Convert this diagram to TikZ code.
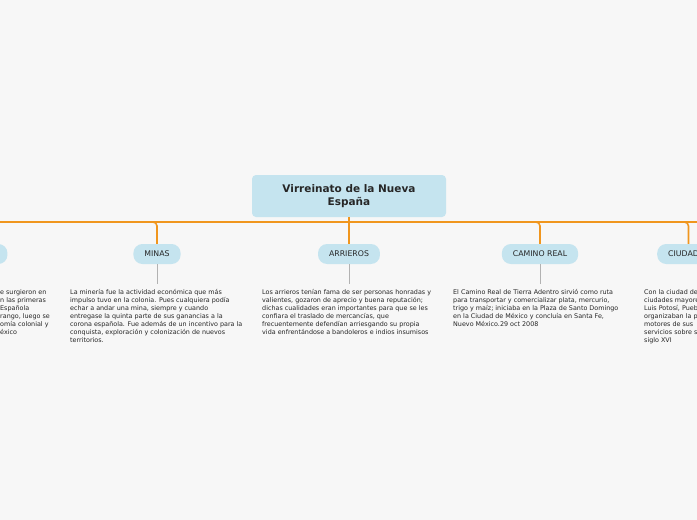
\documentclass[tikz,border=0pt]{standalone}
\usepackage{fontspec}
\setmainfont{DejaVu Sans}
\begin{document}
\begin{tikzpicture}[x=1pt,y=-1pt,
 sub/.style={fill=nodeblue,rounded corners=9pt,minimum height=20pt,inner xsep=11pt,font=\fontsize{7.8}{9}\selectfont,text=black!85},
 body/.style={anchor=north west,align=left,inner sep=0pt,font=\fontsize{6.4}{8}\selectfont,text=black!85},
 br/.style={draw=branch,line width=1.6pt,rounded corners=4pt},
 gl/.style={draw=gray!60,line width=0.6pt}]
\definecolor{nodeblue}{HTML}{C5E4EF}
\definecolor{branch}{HTML}{F0961E}
\fill[black!3] (0,0) rectangle (697,520);
\useasboundingbox (0,0) rectangle (697,520);
\clip (0,0) rectangle (697,520);
\node[fill=nodeblue,rounded corners=4pt,minimum width=194pt,minimum height=42pt,align=center,font=\bfseries\fontsize{10.5}{13}\selectfont,text=black!85] (main) at (349,196) {Virreinato de la Nueva\\España};
\node[sub] (l) at (-20,254) {MINERÍA};
\node[sub] (m) at (157,254) {MINAS};
\node[sub] (a) at (349,254) {ARRIEROS};
\node[sub] (c) at (540,254) {CAMINO REAL};
\node[sub,anchor=west] (u) at (657,254) {CIUDADES};
\coordinate (h) at (349,222);
\draw[br] (main.south) -- (h);
\draw[br] (-30,222) -- (727,222);
\draw[br] (0,222) -| (l.north);
\draw[br] (100,222) -| (m.north);
\draw[br] (h) -- (a.north);
\draw[br] (450,222) -| (c.north);
\draw[br] (650,222) -| (u.north);
\draw[gl] (m.south) -- ++(0,20);
\draw[gl] (a.south) -- ++(0,20);
\draw[gl] (c.south) -- ++(0,20);
\node[body] (tl) at (0,289) {e surgieron en\\n las primeras\\ Española\\rango, luego se\\omía colonial y\\éxico};
\node[body] (tm) at (70,289) {La minería fue la actividad económica que más\\impulso tuvo en la colonia. Pues cualquiera podía\\echar a andar una mina, siempre y cuando\\entregase la quinta parte de sus ganancias a la\\corona española. Fue además de un incentivo para la\\conquista, exploración y colonización de nuevos\\territorios.};
\node[body] (ta) at (262,289) {Los arrieros tenían fama de ser personas honradas y\\valientes, gozaron de aprecio y buena reputación;\\dichas cualidades eran importantes para que se les\\confiara el traslado de mercancías, que\\frecuentemente defendían arriesgando su propia\\vida enfrentándose a bandoleros e indios insumisos};
\node[body] (tc) at (453,289) {El Camino Real de Tierra Adentro sirvió como ruta\\para transportar y comercializar plata, mercurio,\\trigo y maíz; iniciaba en la Plaza de Santo Domingo\\en la Ciudad de México y concluía en Santa Fe,\\Nuevo México.29 oct 2008};
\node[body] (tu) at (644,289) {Con la ciudad de\\ciudades mayores\\Luis Potosí, Pueb\\organizaban la p\\motores de sus\\servicios sobre s\\siglo XVI};
\end{tikzpicture}
\end{document}
